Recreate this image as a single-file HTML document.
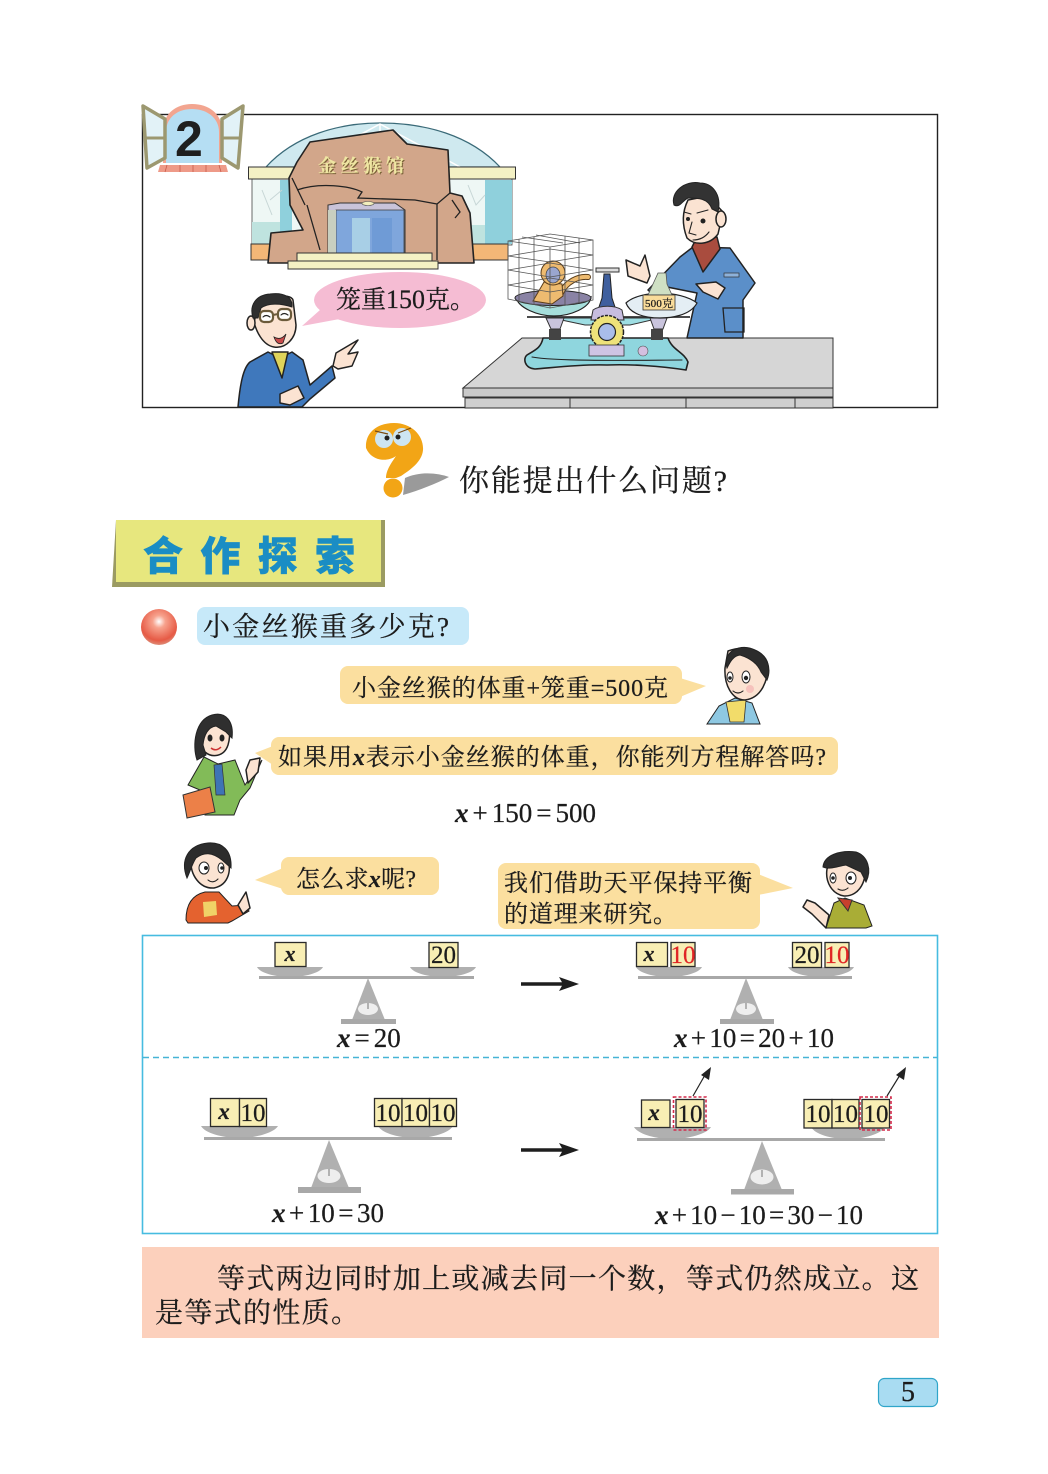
<!DOCTYPE html>
<html lang="zh"><head><meta charset="utf-8"><title>等式的性质</title>
<style>
html,body{margin:0;padding:0;background:#fff;width:1048px;height:1474px;overflow:hidden}
svg{display:block}
text{font-family:"Liberation Serif","Noto Serif CJK SC",serif;fill:#1c1c1c;stroke:#1c1c1c;stroke-width:.25}
.i{font-style:italic;font-weight:700}
.sk{stroke:#222;stroke-width:1.500;stroke-linejoin:round;stroke-linecap:round}
.skin{fill:#fbe3d2;stroke:#222;stroke-width:1.500;stroke-linejoin:round}
.pan{fill:#b0b0b0}
.box{fill:#f8eeb4;stroke:#2a2a2a;stroke-width:1.300}
.rd{stroke:#d22a4a;stroke-width:1.600;stroke-dasharray:3 2;fill:none}
.n{font-size:25px;text-anchor:middle}
.eq{font-size:27px}
.l{fill:none;stroke:#222;stroke-width:1.100;stroke-linecap:round}
</style></head><body>
<svg width="1048" height="1474" viewBox="0 0 1048 1474" xmlns="http://www.w3.org/2000/svg">
<rect width="1048" height="1474" fill="#fff"/>

<!-- top frame -->
<rect x="142.500" y="114.500" width="795" height="293" fill="#fff" stroke="#222" stroke-width="1.400"/>

<!-- building -->
<path d="M266 167C295 135 340 123 380 123C425 123 470 135 500 167Z" fill="#cfe9ef" stroke="#3a6a78" stroke-width="1.200"/>
<path d="M300 167L380 124L460 167M380 124V167" fill="none" stroke="#fff" stroke-width="1.500"/>
<rect x="252" y="179" width="260" height="66" fill="#eef7f5" stroke="#444" stroke-width=".8"/>
<rect x="280" y="180" width="12" height="64" fill="#8fd0dc"/>
<rect x="252" y="222" width="28" height="22" fill="#bfe3df"/>
<rect x="485" y="180" width="27" height="64" fill="#8fd0dc"/>
<rect x="457" y="225" width="28" height="19" fill="#bfe3df"/>
<path d="M262 190L272 215M270 200L282 190M468 185L476 205L485 195" fill="none" stroke="#c7d6d6"/>
<rect x="251" y="244" width="22" height="16" fill="#f3b777" stroke="#333"/>
<rect x="470" y="244" width="38" height="16" fill="#f3b777" stroke="#333"/>
<rect x="248.500" y="167" width="267" height="12" fill="#f4f1c4" stroke="#333"/>
<path d="M310 142L393 130L407 144L448 150L450 193L462 196L470 213L474 263H268L271 233L303 230L290 205L289 178L297 162Z" fill="#d2a68a" stroke="#222" stroke-width="1.600" stroke-linejoin="round"/>
<path d="M297 190C320 182 350 186 362 192L358 198L415 200L437 204M450 193L437 204L437 260M307 205L320 250M292 178L305 205M452 200L460 212L455 218" fill="none" stroke="#222" stroke-width="1.300"/>
<path d="M328 253V205L340 203H395L405 210V253Z" fill="#c9c3d9" stroke="#333"/>
<rect x="336" y="210" width="68" height="43" fill="#7fa6dc" stroke="#444" stroke-width=".8"/>
<rect x="352" y="218" width="18" height="35" fill="#a8cfe6"/>
<rect x="372" y="218" width="20" height="35" fill="#6f9bd6"/>
<rect x="328" y="210" width="8" height="43" fill="#c8cfc0"/>
<ellipse cx="368" cy="203.500" rx="6" ry="2" fill="#f2eebc" stroke="#555" stroke-width=".6"/>
<rect x="297" y="253" width="135" height="8" fill="#f4f1c4" stroke="#333"/>
<rect x="288" y="261" width="150" height="8" fill="#f4f1c4" stroke="#333"/>
<text x="319" y="173" font-size="18" textLength="86" style="fill:#7a6238;stroke:#7a6238;font-weight:700">金丝猴馆</text>
<text x="318" y="172" font-size="18" textLength="86" style="fill:#efe6a2;stroke:#efe6a2;font-weight:700">金丝猴馆</text>

<!-- window badge -->
<path d="M163 163V130C163 115 175 104 192 104C210 104 222 115 222 130V163Z" fill="#f2a590"/>
<path d="M166 163V132C166 118 177 109 192 109C207 109 219 118 219 132V163Z" fill="#b5def3"/>
<path d="M143 106L165 119V158L147 168Z" fill="#e2f2f7" stroke="#9c9870" stroke-width="3.500" stroke-linejoin="round"/>
<path d="M145 138L164 138" stroke="#9c9870" stroke-width="3"/>
<path d="M243 106L222 119V158L238 168Z" fill="#e2f2f7" stroke="#9c9870" stroke-width="3.500" stroke-linejoin="round"/>
<path d="M241 138L223 138" stroke="#9c9870" stroke-width="3"/>
<path d="M160 165H226L228 172H158Z" fill="#ee9a88"/>
<path d="M167 165L165 172M180 165V172M193 165V172M206 165V172M219 165L221 172" stroke="#c85c4c" stroke-width=".8"/>
<text x="175" y="156" font-size="50" style="font-family:'Liberation Sans',sans-serif;font-weight:700;fill:#1f1f1f;stroke:none">2</text>

<!-- pink bubble -->
<path d="M302 326L320 310L345 318Z" fill="#f5bcd3"/>
<ellipse cx="400" cy="300" rx="86" ry="28" fill="#f5bcd3"/>
<text x="336" y="308" font-size="25">笼重<tspan x="386" font-size="26">150</tspan><tspan x="425">克。</tspan></text>

<!-- left man -->
<path d="M238 407C240 385 243 368 250 362L268 352L280 358L292 352L303 360L310 385L332 366L335 378L310 399L302 407Z" fill="#3f78bc" class="sk"/>
<path d="M272 352L282 378L288 352Z" fill="#dfd45a" class="sk"/>
<path d="M259 303C262 297 290 292 293 300L296 325C296 338 286 349 274 347C262 345 256 330 254 322Z" class="skin"/>
<ellipse cx="251" cy="323" rx="4" ry="7" class="skin"/>
<path d="M253 318C249 305 256 295 270 294C285 292 293 298 292 307C280 303 268 303 261 308L258 318Z" fill="#2f2f2f" stroke="#222"/>
<rect x="260" y="311" width="13" height="11" rx="4" fill="#fff" stroke="#6b5a3a" stroke-width="2.200"/>
<rect x="278" y="309" width="13" height="11" rx="4" fill="#fff" stroke="#6b5a3a" stroke-width="2.200"/>
<path d="M273 315L278 314" stroke="#6b5a3a" stroke-width="2"/>
<path d="M263 317Q266 314 270 317M281 315Q284 312 288 315" class="l"/>
<path d="M274 337C279 340 283 338 286 334L283 343C279 345 276 343 274 337Z" fill="#c84a4a" stroke="#222" stroke-width=".8"/>
<path d="M333 366L336 353L358 340L348 354L358 352L352 366L338 369Z" class="skin"/>
<path d="M280 394L298 386L304 398L290 405L280 403Z" class="skin"/>

<!-- table -->
<path d="M522 338H833V388H463Z" fill="#d6d6d6" stroke="#333" stroke-width="1"/>
<path d="M463 388H833V397H463Z" fill="#c9c9c9" stroke="#333" stroke-width="1"/>
<path d="M465 398H833V408H465Z" fill="#cfcfcf" stroke="#333" stroke-width="1"/>
<path d="M570 398V408M686 398V408M795 398V408" stroke="#333"/>

<!-- right man -->
<path d="M680 257L693 247L730 248L755 283L743 300V338H687L697 293L667 287L660 300L648 290Z" fill="#5b8fc9" class="sk"/>
<path d="M692 247L703 272L720 249L717 237L695 241Z" fill="#a94c3e" class="sk"/>
<path d="M688 200C682 212 682 225 687 238C695 246 710 245 718 234L723 212L708 196Z" class="skin"/>
<ellipse cx="721" cy="219" rx="5" ry="8" class="skin"/>
<path d="M674 205C670 192 685 180 700 183C712 183 722 194 718 212L712 209C708 198 698 198 688 198C682 201 680 208 674 205Z" fill="#333" stroke="#222"/>
<circle cx="703" cy="221" r="2.500" fill="#222"/><circle cx="688" cy="219" r="2" fill="#222"/>
<path d="M697 213L708 210M684 212L691 214M692 222L689 233L696 235M693 240Q703 240 709 232" class="l"/>
<path d="M626 260L640 266L645 255L650 276L647 283L636 279L628 276Z" class="skin"/>
<path d="M696 284L716 282L725 288L718 299L703 292Z" class="skin"/>
<rect x="724" y="273" width="15" height="4" fill="#8db1d9" stroke="#333" stroke-width=".7"/>
<path d="M723 308H744V332H725Z" fill="none" stroke="#222" stroke-width="1.300"/>

<!-- scale -->
<path d="M543 338H668C672 350 684 352 688 362L686 370C660 366 630 364 607 365C580 364 550 368 535 369C524 368 523 358 527 355C535 350 541 348 543 338Z" fill="#8fd6de" stroke="#222" stroke-width="1.600" stroke-linejoin="round"/>
<path d="M532 357C560 362 650 360 682 360" class="l"/>
<path d="M527 317H690" stroke="#333" stroke-width="1.800"/>
<path d="M552 318H660L630 325H585Z" fill="#9edee3" stroke="#333"/>
<rect x="549" y="329" width="12" height="11" fill="#444"/><rect x="651" y="329" width="12" height="11" fill="#444"/>
<path d="M546 318H564L560 329H551ZM650 318H667L663 329H654Z" fill="#c9c4dd" stroke="#333"/>
<path d="M604 274H610L612 298L616 310H598L602 298Z" fill="#3f5f9e" stroke="#222"/>
<path d="M596 268H619V272H596Z" fill="#ddd" stroke="#333"/>
<path d="M593 310C600 305 615 305 622 310L624 320H591Z" fill="#c7bde0" stroke="#333"/>
<circle cx="607" cy="332" r="16.500" fill="#eee27a" stroke="#222" stroke-width="1.500" stroke-dasharray="3 1.200"/>
<circle cx="607" cy="332" r="8.500" fill="#a9bdea" stroke="#222" stroke-width="1.200"/>
<rect x="589" y="345" width="35" height="11" fill="#cfc4e4" stroke="#333" stroke-width=".8"/>
<circle cx="643" cy="351" r="5" fill="#d4bfe0" stroke="#555" stroke-width=".6"/>
<path d="M516 297C530 306 578 306 591 297C590 308 570 316 554 316C538 316 518 308 516 297Z" fill="#a6dedb" stroke="#222" stroke-width="1.200"/>
<ellipse cx="553" cy="298" rx="38" ry="7.500" fill="#8a83a5" stroke="#222" stroke-width="1"/>
<!-- monkey -->
<path d="M561 293C566 282 578 276 588 277" fill="none" stroke="#5a3c18" stroke-width="6" stroke-linecap="round"/>
<path d="M561 293C566 282 578 276 588 277" fill="none" stroke="#eebb70" stroke-width="4" stroke-linecap="round"/>
<path d="M544 282L562 284L563 296L552 304L533 301Z" fill="#eebb70" stroke="#5a3c18"/>
<circle cx="553" cy="273" r="12" fill="#eebb70" stroke="#5a3c18"/>
<ellipse cx="553" cy="275" rx="7" ry="8" fill="#9aa6cf" stroke="#444" stroke-width=".7"/>
<!-- cage -->
<g fill="none" stroke="#555" stroke-width=".8">
<path d="M508 241L550 234L593 240V300L550 308L508 299Z"/>
<path d="M508 241L550 247L593 240M550 247V308"/>
<path d="M508 256L550 262L593 255M508 270L550 277L593 270M508 285L550 292L593 285"/>
<path d="M519 239V301M534 237V305M565 236V306M579 238V303M522 237L563 243M536 235L580 243"/>
<path d="M508 256L550 249L593 255M508 270L550 263L593 270M508 285L550 278L593 285"/>
</g>
<!-- right pan -->
<path d="M626 303C640 290 680 290 697 303C690 316 670 318 660 318C645 318 630 314 626 303Z" fill="#e4eef4" stroke="#222" stroke-width="1.200"/>
<path d="M648 295L653 284L658 273H666L667 284L672 295Z" fill="#cfe0c4" stroke="#555" stroke-width=".8"/>
<rect x="643" y="295" width="32" height="15" fill="#f9dc9a" stroke="#333" stroke-width=".8"/>
<text x="645" y="307" font-size="11" textLength="28">500克</text>

<!-- question mark -->
<path d="M405 478C420 471 438 473 449 477C435 484 420 490 403 495Z" fill="#9a9a9a"/>
<path d="M366 448C365 432 378 423 394 423C412 423 424 436 423 450C422 462 410 470 401 476L396 478H386C386 470 392 462 396 456C388 462 372 462 366 448Z" fill="#f2a516"/>
<circle cx="393" cy="488" r="9.500" fill="#f2a516"/>
<ellipse cx="384" cy="439" rx="9" ry="9" fill="#cde5f2"/><ellipse cx="402" cy="437" rx="9" ry="9" fill="#cde5f2"/>
<circle cx="387" cy="438" r="2.500" fill="#222"/><circle cx="398" cy="437" r="2.500" fill="#222"/>
<path d="M375 431L388 434M411 428L398 433" stroke="#7a4a10" stroke-width="1.200"/>
<text x="459" y="491" font-size="30" textLength="268">你能提出什么问题?</text>

<!-- heading -->
<path d="M112 587L116 520H385V587Z" fill="#9b9b62"/>
<rect x="116" y="520" width="265" height="62" fill="#e7e77e"/>
<text x="143" y="570" font-size="40" textLength="212" style="font-family:'Liberation Sans','Noto Sans CJK SC',sans-serif;font-weight:900;fill:#1a8dc4;stroke:#1a8dc4;stroke-width:.6">合作探索</text>

<!-- ball + label -->
<defs><radialGradient id="b" cx=".5" cy=".35" r=".7"><stop offset="0" stop-color="#fff"/><stop offset=".25" stop-color="#f7a28d"/><stop offset=".75" stop-color="#e65a45"/><stop offset="1" stop-color="#d9a08c"/></radialGradient></defs>
<circle cx="159" cy="627" r="18" fill="url(#b)"/>
<rect x="197" y="607" width="272" height="38" rx="8" fill="#c7e9f9"/>
<text x="203" y="636" font-size="27" textLength="246">小金丝猴重多少克?</text>

<!-- bubble 1 -->
<path d="M680 678L706 686L680 697Z" fill="#fbdf9f"/>
<rect x="340" y="666" width="342" height="38" rx="8" fill="#fbdf9f"/>
<text x="352" y="696" font-size="24" textLength="316">小金丝猴的体重+笼重=500克</text>
<!-- top right boy -->
<path d="M707 724L719 706L735 698L752 703L760 724Z" fill="#8ec8e2" stroke="#222"/>
<path d="M726 702L746 700L744 722H730Z" fill="#f2dc6a" stroke="#333" stroke-width=".8"/>
<path d="M728 651C745 645 765 650 768 665C768 680 762 698 745 700C732 700 724 685 725 668Z" class="skin"/>
<path d="M727 668C722 650 742 643 755 650C767 655 772 668 767 680L761 672C758 664 750 658 740 655C733 656 730 662 727 668Z" fill="#2c2c2c" stroke="#222"/>
<ellipse cx="730" cy="677" rx="3" ry="5" fill="#fff" stroke="#222"/><ellipse cx="746" cy="677" rx="4" ry="6" fill="#fff" stroke="#222"/>
<circle cx="746" cy="678" r="2.200" fill="#222"/><circle cx="730" cy="678" r="1.800" fill="#222"/>
<circle cx="750" cy="689" r="4" fill="#f6c2bc"/><path d="M733 691Q738 695 743 691" class="l"/>

<!-- bubble 2 -->
<path d="M273 746L255 753L273 765Z" fill="#fbdf9f"/>
<rect x="271" y="737" width="567" height="38" rx="8" fill="#fbdf9f"/>
<text x="278" y="765" font-size="24" textLength="548">如果用<tspan class="i" style="font-size:24px">x</tspan>表示小金丝猴的体重，你能列方程解答吗?</text>
<!-- girl -->
<path d="M204 757L218 764L235 760L245 785L262 760L250 788L240 800L234 815H205L200 790L188 785Z" fill="#82bb58" stroke="#222"/>
<path d="M214 765L222 764L225 795H216Z" fill="#3e74b5" stroke="#333" stroke-width=".7"/>
<path d="M246 770L250 760L260 758L258 772L248 783Z" class="skin"/>
<path d="M183 795L210 787L215 812L187 818Z" fill="#ec8048" stroke="#333"/>
<path d="M198 738C198 725 208 718 222 719C230 722 231 735 228 745C224 757 212 758 205 752Z" class="skin"/>
<path d="M197 760C192 745 195 720 212 715C226 711 234 722 232 738L226 732L216 726C208 727 204 735 203 745L206 755Z" fill="#2f2f2f" stroke="#222"/>
<ellipse cx="210" cy="738" rx="2.500" ry="3.500" fill="#222"/><ellipse cx="222" cy="738" rx="2.500" ry="3.500" fill="#222"/>
<path d="M211 748Q216 752 221 747" stroke="#c33" fill="none" stroke-width="1.500"/>

<!-- equation -->
<text class="eq" x="455" y="822"><tspan class="i">x</tspan><tspan dx="4">+</tspan><tspan dx="4">150</tspan><tspan dx="4">=</tspan><tspan dx="4">500</tspan></text>

<!-- bubble 3 -->
<path d="M283 868L255 880L283 889Z" fill="#fbdf9f"/>
<rect x="281" y="857" width="158" height="38" rx="8" fill="#fbdf9f"/>
<text x="296" y="887" font-size="24" textLength="120">怎么求<tspan class="i">x</tspan>呢?</text>
<!-- left boy -->
<path d="M186 920C186 905 192 895 205 892L219 892L232 906L246 905L249 911L232 921L228 923H188Z" fill="#e4622f" stroke="#222"/>
<path d="M203 902L216 901L217 915L204 917Z" fill="#f0d267"/>
<path d="M238 905L246 892L250 908L243 914Z" class="skin"/>
<path d="M191 860C195 848 218 845 226 856C233 868 229 885 214 888C200 889 190 875 191 860Z" class="skin"/>
<path d="M187 878C180 860 188 845 208 843C222 842 232 850 231 868L222 860C212 852 204 852 196 858C192 864 190 872 187 878Z" fill="#2c2c2c" stroke="#222"/>
<ellipse cx="204" cy="868" rx="5" ry="6" fill="#fff" stroke="#222"/><ellipse cx="221" cy="868" rx="3" ry="5" fill="#fff" stroke="#222"/>
<circle cx="206" cy="868" r="2" fill="#222"/><circle cx="222" cy="868" r="1.800" fill="#222"/>
<path d="M208 880Q213 884 218 879" class="l"/>

<!-- bubble 4 -->
<path d="M758 874L793 888L758 895Z" fill="#fbdf9f"/>
<rect x="498" y="863" width="262" height="66" rx="8" fill="#fbdf9f"/>
<text x="504" y="891" font-size="24" textLength="248">我们借助天平保持平衡</text>
<text x="504" y="922" font-size="24" textLength="173">的道理来研究。</text>
<!-- right boy -->
<path d="M826 928L834 903L845 898L864 905L872 926L866 928Z" fill="#a9ad36" stroke="#222"/>
<path d="M838 898L852 900L848 911Z" fill="#c8402d" stroke="#333"/>
<path d="M826 928L812 914L803 907L807 900L815 903L829 915Z" class="skin"/>
<path d="M827 869C832 855 856 854 864 866C868 878 860 897 844 896C832 894 825 882 827 869Z" class="skin"/>
<path d="M823 867C824 855 840 850 856 852C868 856 872 870 866 882L861 872L846 865C838 866 830 870 823 867Z" fill="#2c2c2c" stroke="#222"/>
<ellipse cx="833" cy="878" rx="3" ry="5" fill="#fff" stroke="#222"/><ellipse cx="851" cy="878" rx="5" ry="6" fill="#fff" stroke="#222"/>
<circle cx="850" cy="878" r="2" fill="#222"/><circle cx="833" cy="878" r="1.800" fill="#222"/>
<path d="M838 889Q843 892 848 888" class="l"/>

<!-- blue box -->
<rect x="142.500" y="935.500" width="795" height="298" fill="#fff" stroke="#46bce0" stroke-width="1.600"/>
<line x1="143" y1="1057.500" x2="937" y2="1057.500" stroke="#46b4d6" stroke-width="1.500" stroke-dasharray="6 4"/>

<!-- balance 1 -->
<path class="pan" d="M257 967H323C320 973 305 977 290 977C275 977 260 973 257 967ZM410 967H476C473 973 458 977 443 977C428 977 413 973 410 967Z"/>
<rect x="259" y="976" width="215" height="3" fill="#a8a8a8"/>
<path class="pan" d="M368 978L385 1020H352Z"/><rect x="341" y="1019" width="55" height="5" fill="#a8a8a8"/>
<ellipse cx="368" cy="1009" rx="10" ry="6" fill="#eee"/><path d="M368 1003V1009" stroke="#444" stroke-width=".7"/>
<rect class="box" x="275" y="942.500" width="31" height="24"/>
<text class="i" x="290" y="961" font-size="22" text-anchor="middle">x</text>
<rect class="box" x="429" y="942.500" width="29" height="25"/>
<text class="n" x="443.500" y="963">20</text>
<text class="eq" x="337" y="1047"><tspan class="i">x</tspan><tspan dx="4">=</tspan><tspan dx="4">20</tspan></text>

<!-- balance 3 -->
<path class="pan" d="M636 967H702C699 973 684 977 669 977C654 977 639 973 636 967ZM788 967H854C851 973 836 977 821 977C806 977 791 973 788 967Z"/>
<rect x="638" y="976" width="214" height="3" fill="#a8a8a8"/>
<path class="pan" d="M746 978L763 1020H730Z"/><rect x="720" y="1019" width="54" height="5" fill="#a8a8a8"/>
<ellipse cx="746" cy="1009" rx="10" ry="6" fill="#eee"/><path d="M746 1003V1009" stroke="#444" stroke-width=".7"/>
<rect class="box" x="636.500" y="942.500" width="31" height="24"/>
<text class="i" x="649" y="961" font-size="22" text-anchor="middle">x</text>
<rect class="box" x="671" y="942.500" width="24" height="24"/>
<text class="n" x="683" y="963" style="fill:#e02525;stroke:#e02525">10</text>
<rect class="box" x="792.500" y="942.500" width="29" height="25"/>
<text class="n" x="807" y="963">20</text>
<rect class="box" x="825" y="942.500" width="24" height="25"/>
<text class="n" x="837" y="963" style="fill:#e02525;stroke:#e02525">10</text>
<text class="eq" x="674" y="1047"><tspan class="i">x</tspan><tspan dx="3.300">+</tspan><tspan dx="3.300">10</tspan><tspan dx="3.300">=</tspan><tspan dx="3.300">20</tspan><tspan dx="3.300">+</tspan><tspan dx="3.300">10</tspan></text>

<!-- balance 2 -->
<path class="pan" d="M201 1126H278C274 1133 255 1138 240 1138C222 1138 205 1133 201 1126ZM378 1126H453C449 1133 432 1138 416 1138C398 1138 382 1133 378 1126Z"/>
<rect x="204" y="1137" width="248" height="3" fill="#a8a8a8"/>
<path class="pan" d="M329 1140L349 1188H311Z"/><rect x="298" y="1187" width="63" height="6" fill="#a8a8a8"/>
<ellipse cx="329" cy="1176" rx="11.500" ry="7" fill="#eee"/><path d="M329 1169V1176" stroke="#444" stroke-width=".7"/>
<rect class="box" x="210.500" y="1098.500" width="29" height="28"/>
<text class="i" x="224" y="1119" font-size="23" text-anchor="middle">x</text>
<rect class="box" x="239.500" y="1098.500" width="27" height="28"/>
<text class="n" x="253" y="1121">10</text>
<rect class="box" x="374.500" y="1098.500" width="27.500" height="28"/><text class="n" x="388" y="1121">10</text>
<rect class="box" x="402" y="1098.500" width="27.500" height="28"/><text class="n" x="415.500" y="1121">10</text>
<rect class="box" x="429.500" y="1098.500" width="27" height="28"/><text class="n" x="443" y="1121">10</text>
<text class="eq" x="272" y="1222"><tspan class="i">x</tspan><tspan dx="3.500">+</tspan><tspan dx="3.500">10</tspan><tspan dx="3.500">=</tspan><tspan dx="3.500">30</tspan></text>

<!-- balance 4 -->
<path class="pan" d="M634 1127H711C707 1134 688 1139 672 1139C655 1139 638 1134 634 1127ZM811 1127H885C881 1134 864 1139 848 1139C830 1139 815 1134 811 1127Z"/>
<rect x="637" y="1138" width="248" height="3" fill="#a8a8a8"/>
<path class="pan" d="M762 1141L782 1190H744Z"/><rect x="731" y="1189" width="63" height="5.500" fill="#a8a8a8"/>
<ellipse cx="762" cy="1177" rx="11.500" ry="7.500" fill="#eee"/><path d="M762 1170V1177" stroke="#444" stroke-width=".7"/>
<rect class="box" x="641.500" y="1100" width="28.500" height="27.500"/>
<text class="i" x="654" y="1120" font-size="23" text-anchor="middle">x</text>
<rect class="box" x="676" y="1099.500" width="28" height="28"/><text class="n" x="690" y="1122">10</text>
<rect class="rd" x="673.500" y="1097" width="32.500" height="33"/>
<rect class="box" x="804" y="1099.500" width="28" height="28.500"/><text class="n" x="818" y="1122">10</text>
<rect class="box" x="832" y="1099.500" width="27" height="28.500"/><text class="n" x="845.500" y="1122">10</text>
<rect class="box" x="862" y="1099.500" width="27.500" height="28.500"/><text class="n" x="876" y="1122">10</text>
<rect class="rd" x="860" y="1097" width="31" height="33"/>
<path d="M693 1096L705 1075" stroke="#222" stroke-width="1.200"/><path d="M711 1067L709 1080L701 1075Z" fill="#222"/>
<path d="M887 1096L900 1075" stroke="#222" stroke-width="1.200"/><path d="M906 1067L904 1080L896 1075Z" fill="#222"/>
<text class="eq" x="655" y="1224"><tspan class="i">x</tspan><tspan dx="3.200">+</tspan><tspan dx="3.200">10</tspan><tspan dx="3.200">−</tspan><tspan dx="3.200">10</tspan><tspan dx="3.200">=</tspan><tspan dx="3.200">30</tspan><tspan dx="3.200">−</tspan><tspan dx="3.200">10</tspan></text>

<!-- big arrows -->
<path d="M521 982.300H562L559 977L579 984L559 991L562 985.700H521Z" fill="#1e1e1e"/>
<path d="M521 1148.300H562L559 1143L579 1150L559 1157L562 1151.700H521Z" fill="#1e1e1e"/>

<!-- pink text box -->
<rect x="142" y="1247" width="797" height="91" fill="#fcd0bc"/>
<text x="217" y="1288" font-size="28" textLength="702">等式两边同时加上或减去同一个数，等式仍然成立。这</text>
<text x="155" y="1322" font-size="28" textLength="204">是等式的性质。</text>

<!-- page number -->
<rect x="878.500" y="1378.500" width="59" height="28" rx="6" fill="#a9dcf2" stroke="#2fa5c9" stroke-width="1.200"/>
<text x="908" y="1401" font-size="28" text-anchor="middle">5</text>
</svg>
</body></html>
